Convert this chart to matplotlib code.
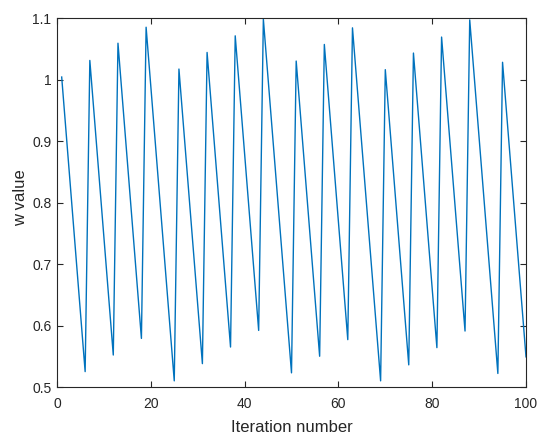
import matplotlib
matplotlib.use('Agg')
import matplotlib.pyplot as plt

plt.rcParams['font.family'] = ['Liberation Sans', 'DejaVu Sans']

# 迭代次数与 w 值（只取折线的峰、谷顶点）
iteration = [1, 6, 7, 12, 13, 18, 19, 25, 26, 31, 32, 37, 38, 43, 44, 50,
             51, 56, 57, 62, 63, 69, 70, 75, 76, 81, 82, 87, 88, 94, 95, 100]
w_value = [1.004, 0.525, 1.031, 0.552, 1.059, 0.579, 1.085, 0.510,
           1.017, 0.538, 1.044, 0.565, 1.071, 0.592, 1.098, 0.523,
           1.030, 0.550, 1.057, 0.577, 1.084, 0.510, 1.016, 0.536,
           1.043, 0.564, 1.069, 0.591, 1.097, 0.522, 1.028, 0.549]

x_ticks = [0, 20, 40, 60, 80, 100]
y_ticks = [0.5, 0.6, 0.7, 0.8, 0.9, 1.0, 1.1]
y_ticklabels = ['0.5', '0.6', '0.7', '0.8', '0.9', '1', '1.1']

fig = plt.figure(figsize=(5.5, 4.44), dpi=100)
ax = fig.add_axes([57/550, 1 - 387/444, (526 - 57)/550, (387 - 18)/444])

ax.plot(iteration, w_value, color='#0072BD', linewidth=1.0)

ax.set_xlim(0, 100)
ax.set_ylim(0.5, 1.1)
ax.set_xticks(x_ticks)
ax.set_yticks(y_ticks)
ax.set_yticklabels(y_ticklabels)

axis_color = '#262626'
for sp in ax.spines.values():
    sp.set_color(axis_color)
    sp.set_linewidth(0.8)
ax.tick_params(direction='in', top=True, right=True, length=4,
               width=0.8, color=axis_color, labelcolor=axis_color,
               labelsize=10)
ax.tick_params(axis='x', pad=7.5)
ax.tick_params(axis='y', pad=4)

ax.set_xlabel('Iteration number', fontsize=12, color=axis_color, labelpad=6)
ax.set_ylabel('w value', fontsize=12, color=axis_color, labelpad=3, y=0.512)

fig.savefig('out.png', dpi=100, facecolor='white')
